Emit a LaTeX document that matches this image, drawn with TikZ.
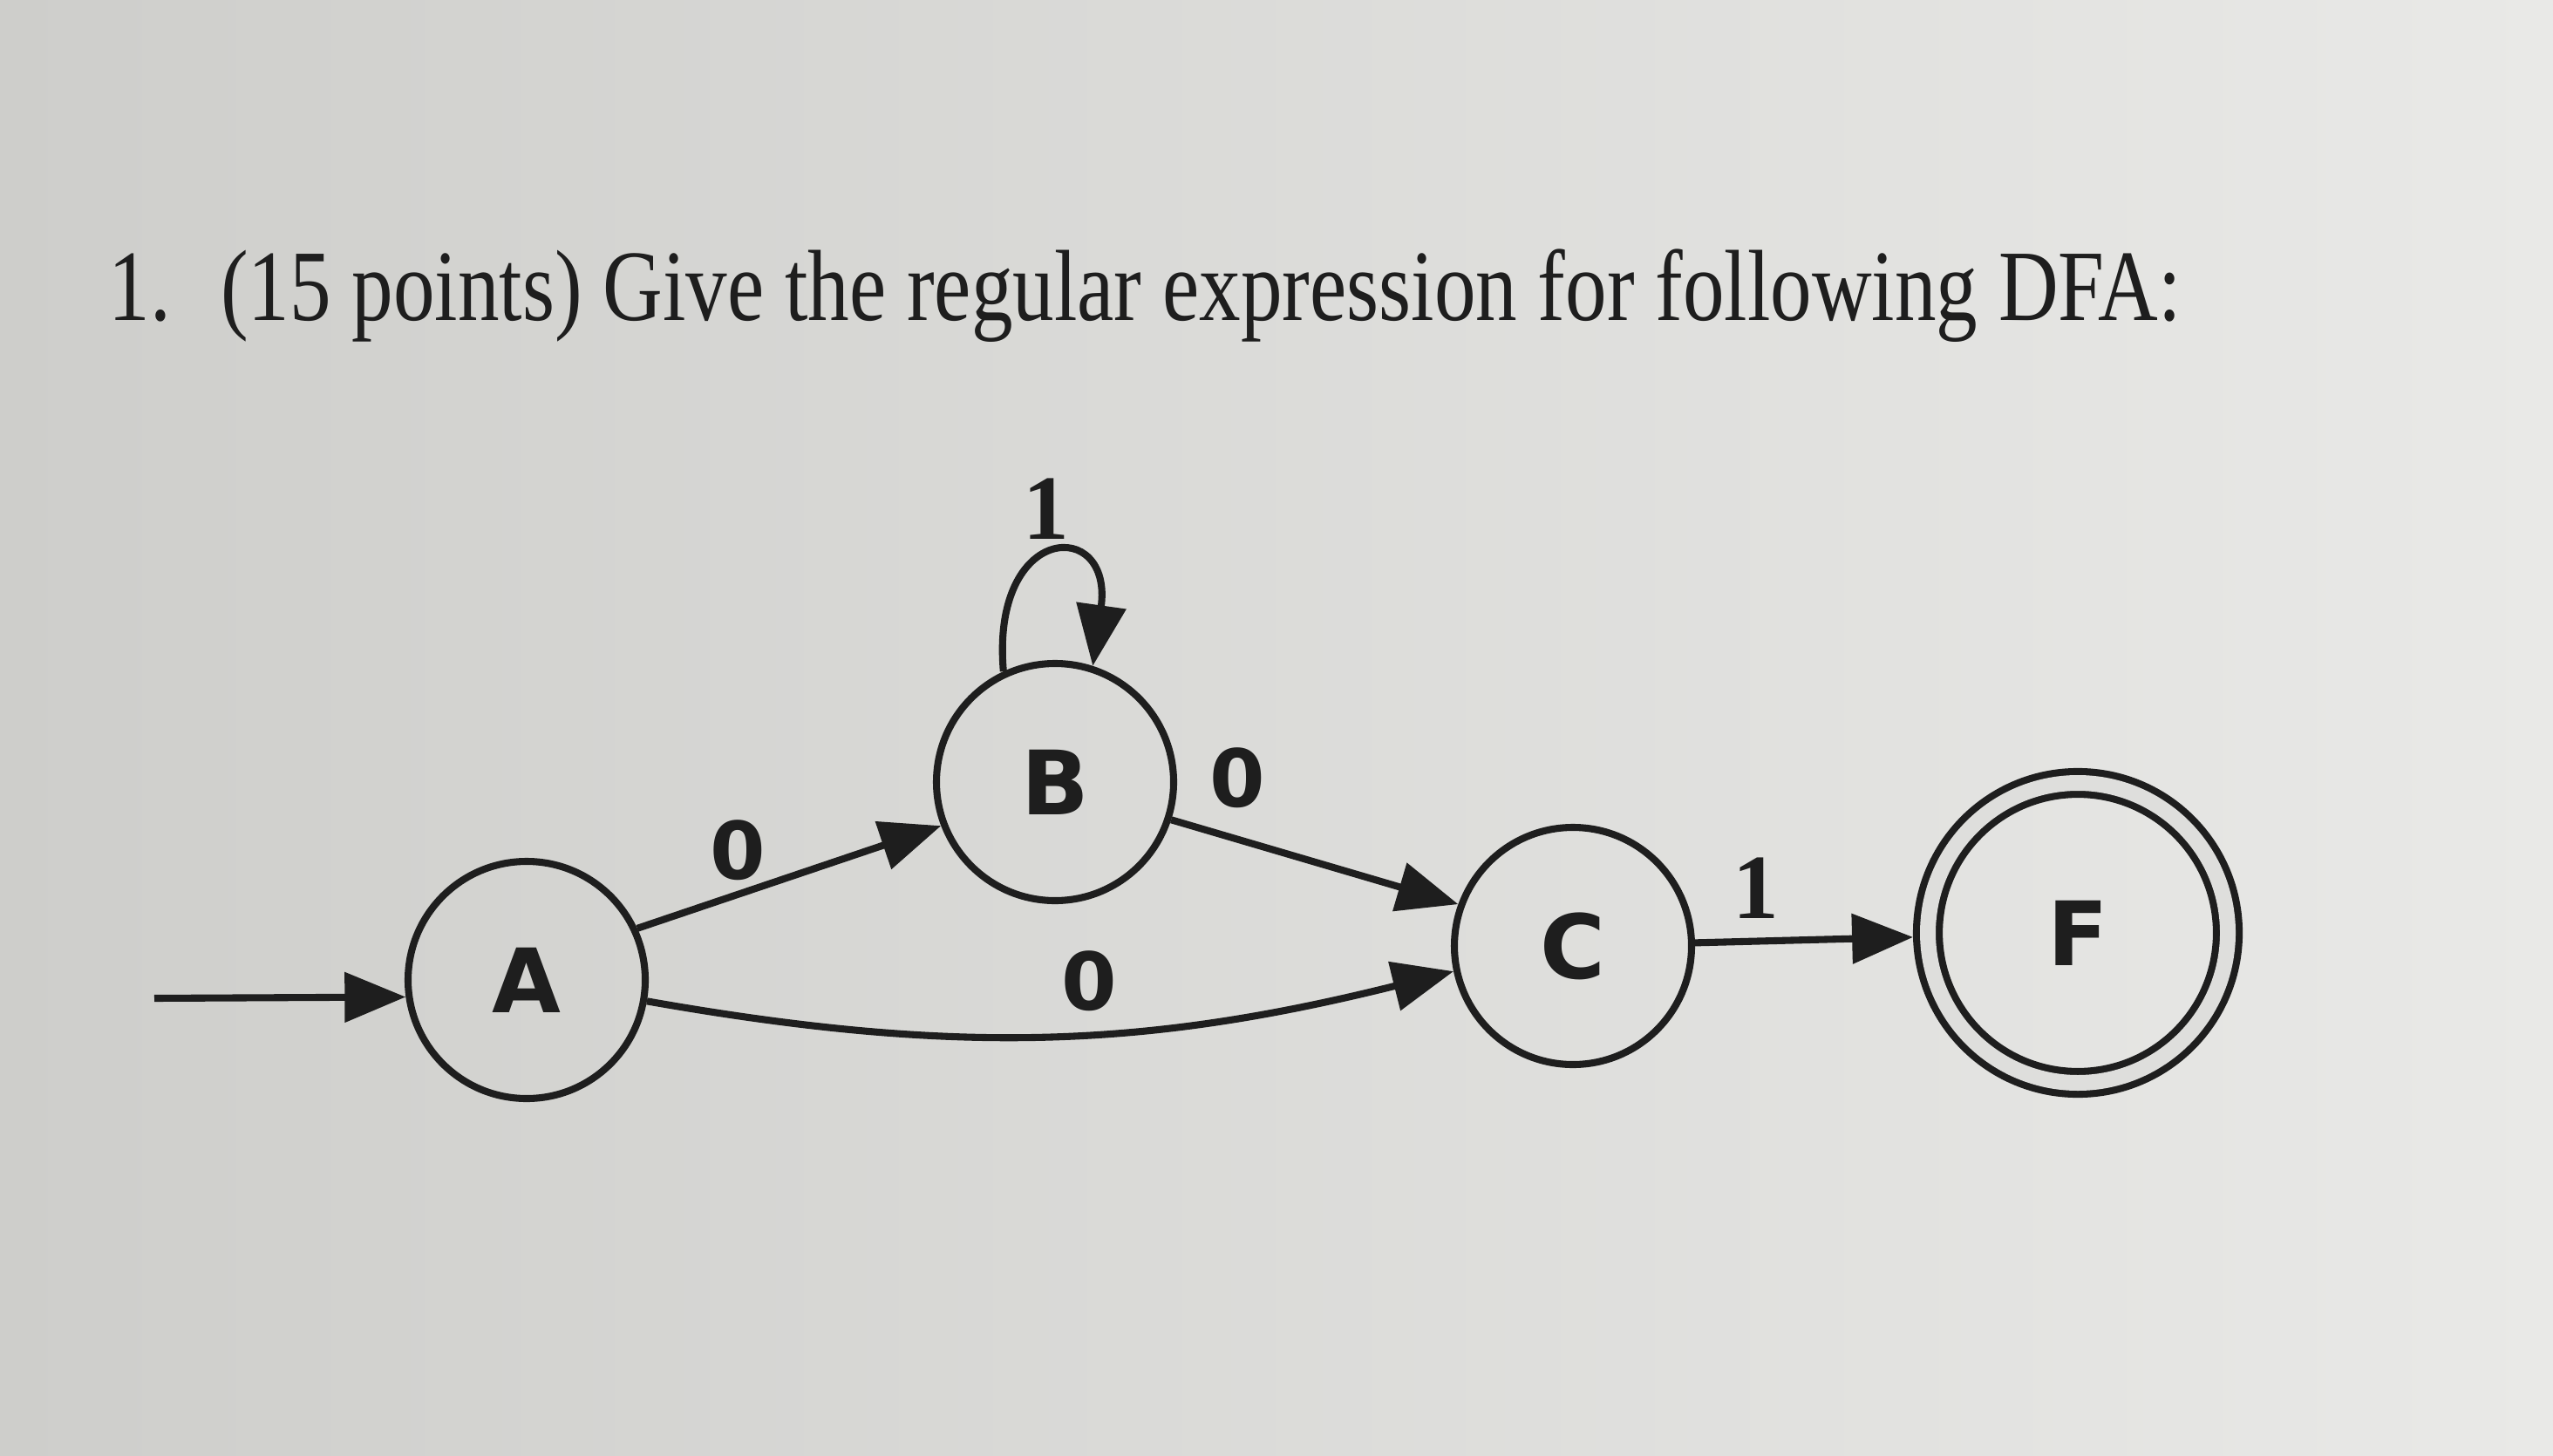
\documentclass[tikz,border=0pt]{standalone}
\usepackage{fontspec}
\setmainfont{Liberation Serif}
\newfontfamily\statefont{DejaVu Sans}
\usetikzlibrary{arrows.meta}
\definecolor{paperL}{RGB}{206,206,203}
\definecolor{paperR}{RGB}{233,233,231}
\definecolor{ink}{RGB}{30,30,30}
\tikzset{state/.style = {draw=ink, line width=2.3pt, circle, minimum size=2.72cm, inner sep=0pt, text=ink, font=\statefont\bfseries\fontsize{29}{29}\selectfont},
         accept/.style = {state, double=paperR!60!paperL, double distance=1.8mm, minimum size=3.44cm, outer sep=1.7mm},
         trans/.style = {->, draw=ink, line width=2.3pt},
         zlbl/.style = {text=ink, font=\statefont\bfseries\fontsize{26}{26}\selectfont},
         olbl/.style = {text=ink, font=\bfseries\fontsize{30}{30}\selectfont}}

\begin{document}
\begin{tikzpicture}[>={Triangle[length=7mm,width=5.6mm]}]
    \shade[left color=paperL, right color=paperR](0,0)rectangle(29.28,-16.69);
    \useasboundingbox(0,0)rectangle(29.28,-16.69);

    % question text
    \node[anchor=base west, text=ink, inner sep=0pt](title)at(1.24,-3.68){\scalebox{0.82}[1]{\fontsize{33}{40}\selectfont 1.\hspace{0.6em}(15 points) Give the regular expression for following DFA:}};

    % states
    \node[state](A)at(6.04,-11.24){A};
    \node[state](B)at(12.10,-8.97){B};
    \node[state](C)at(18.04,-10.85){C};
    \node[accept](F)at(23.83,-10.70){F};
    \coordinate(init)at(1.77,-11.45);

    % transitions
    \draw[trans](init)--(A.188);
    \draw[trans](A.25)--(B.201)node[zlbl, pos=0.33, above]{0};
    \draw[trans](B.115)to[out=95, in=82, looseness=4.3]node[olbl, pos=0.47, above=0.5mm]{1}(B.72);
    \draw[trans](B.-18)--(C.160)node[zlbl, pos=0.23, above=2mm]{0};
    \draw[trans](A.-10)to[out=-10, in=194]node[zlbl, pos=0.55, above=1mm]{0}(C.192);
    \draw[trans](C)--(F)node[olbl, pos=0.28, above=1mm]{1};
\end{tikzpicture}
\end{document}
